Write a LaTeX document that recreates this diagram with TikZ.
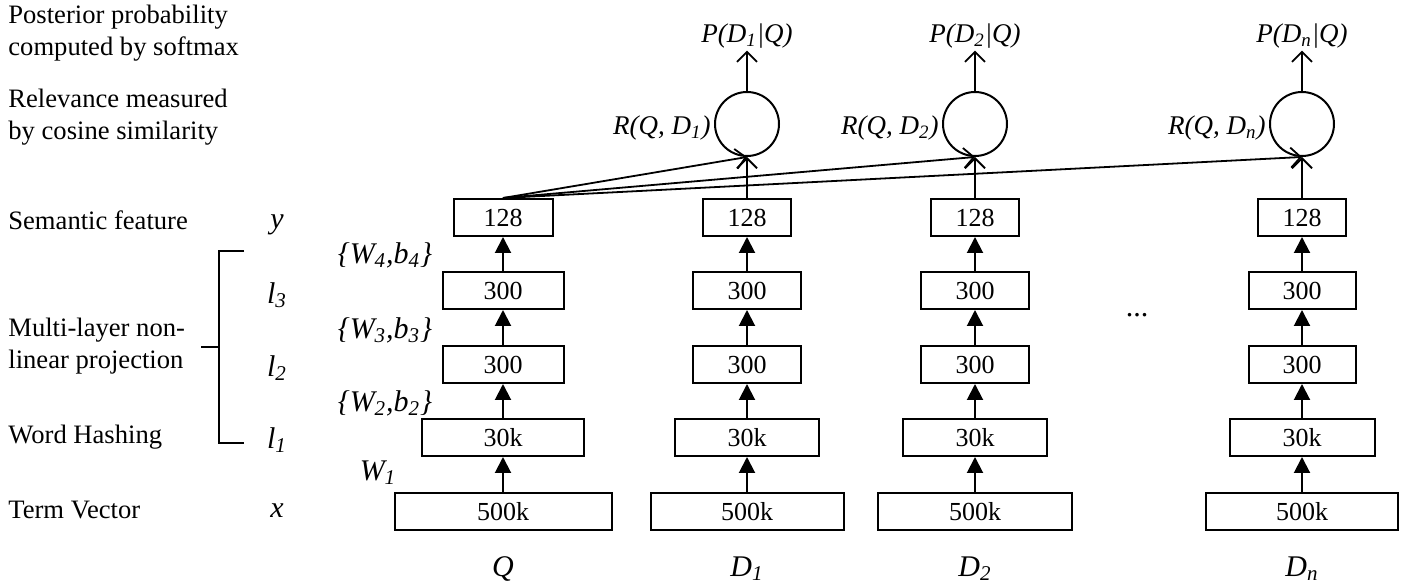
\documentclass[tikz,border=0pt]{standalone}
\usepackage{fontspec}
\setmainfont{Liberation Serif}
\usetikzlibrary{arrows.meta}

\tikzset{
  layer/.style={draw, line width=1pt, inner sep=0pt, minimum height=18.5pt, font=\fontsize{13}{15}\selectfont},
  feed/.style={line width=1pt, -{Triangle[length=8pt,width=8pt]}},
  simarrow/.style={line width=0.9pt, -{Straight Barb[length=5pt,width=10pt]}},
  cosnode/.style={draw, circle, line width=1pt, minimum size=32pt, inner sep=0pt},
  lbl/.style={font=\fontsize{13.3}{16}\selectfont, align=left, anchor=west, inner sep=0pt},
  var/.style={font=\fontsize{13.5}{15}\selectfont\itshape, inner sep=1pt},
  bigvar/.style={var, font=\fontsize{15}{17}\selectfont\itshape},
}

\begin{document}
\begin{tikzpicture}[x=0.5pt,y=-0.5pt]
    \useasboundingbox (0,0) rectangle (1405,587);

    % left hand labels
    \node[lbl] (post) at (8,33) {Posterior probability\\computed by softmax};
    \node[lbl] (relv) at (8,117) {Relevance measured\\by cosine similarity};
    \node[lbl] (sem) at (8,220) {Semantic feature};
    \node[lbl] (mlp) at (8,346) {Multi-layer non-\\linear projection};
    \node[lbl] (hash) at (8,437) {Word Hashing};
    \node[lbl] (term) at (8,510) {Term Vector};

    % bracket
    \draw[line width=1pt] (244,251) -- (219,251) -- (219,443) -- (244,443);
    \draw[line width=1pt] (201,347) -- (219,347);

    \node[bigvar] (vy) at (277,225) {y};
    \node[bigvar] (vl3) at (277,295) {l\textsubscript{3}};
    \node[bigvar] (vl2) at (277,368) {l\textsubscript{2}};
    \node[bigvar] (vl1) at (277,440) {l\textsubscript{1}};
    \node[bigvar] (vx) at (277,511) {x};

    \node[bigvar] (w4) at (385,255) {\{W\textsubscript{4},b\textsubscript{4}\}};
    \node[bigvar] (w3) at (385,330) {\{W\textsubscript{3},b\textsubscript{3}\}};
    \node[bigvar] (w2) at (385,403) {\{W\textsubscript{2},b\textsubscript{2}\}};
    \node[bigvar] (w1) at (378,473) {W\textsubscript{1}};

    % towers
    \foreach \c/\x/\a/\b/\d/\e/\t in {q/503/99/121/162/217/Q, d1/747/88/108/144/193/D\textsubscript{1}, d2/975/88/108/144/194/D\textsubscript{2}, dn/1302/88/107/145/192/D\textsubscript{n}}
    {
        \node[layer, minimum width=\e*0.5pt] (\c-x) at (\x,511.5) {500k};
        \node[layer, minimum width=\d*0.5pt] (\c-l1) at (\x,437.5) {30k};
        \node[layer, minimum width=\b*0.5pt] (\c-l2) at (\x,364.5) {300};
        \node[layer, minimum width=\b*0.5pt] (\c-l3) at (\x,290.5) {300};
        \node[layer, minimum width=\a*0.5pt] (\c-y) at (\x,217.5) {128};
        \node[bigvar] (\c-name) at (\x,569) {\t};
        \draw[feed] (\c-x) -- (\c-l1);
        \draw[feed] (\c-l1) -- (\c-l2);
        \draw[feed] (\c-l2) -- (\c-l3);
        \draw[feed] (\c-l3) -- (\c-y);
    }

    % relevance and posterior
    \foreach \c/\x/\s in {d1/747/1, d2/975/2, dn/1302/n}
    {
        \node[cosnode] (\c-r) at (\x,124) {};
        \node[var, anchor=east] (\c-rl) at (\x-34,128) {R(Q, D\textsubscript{\s})};
        \node[var] (\c-p) at (\x,36) {P(D\textsubscript{\s}|Q)};
        \draw[simarrow] (\c-y) -- (\c-r);
        \draw[simarrow] (\c-r) -- (\c-p);
        \draw[simarrow] (q-y.north) -- (\c-r.south);
    }

    \node[lbl, anchor=center, font=\fontsize{15}{16}\selectfont] (dots) at (1137,315) {...};
\end{tikzpicture}
\end{document}
